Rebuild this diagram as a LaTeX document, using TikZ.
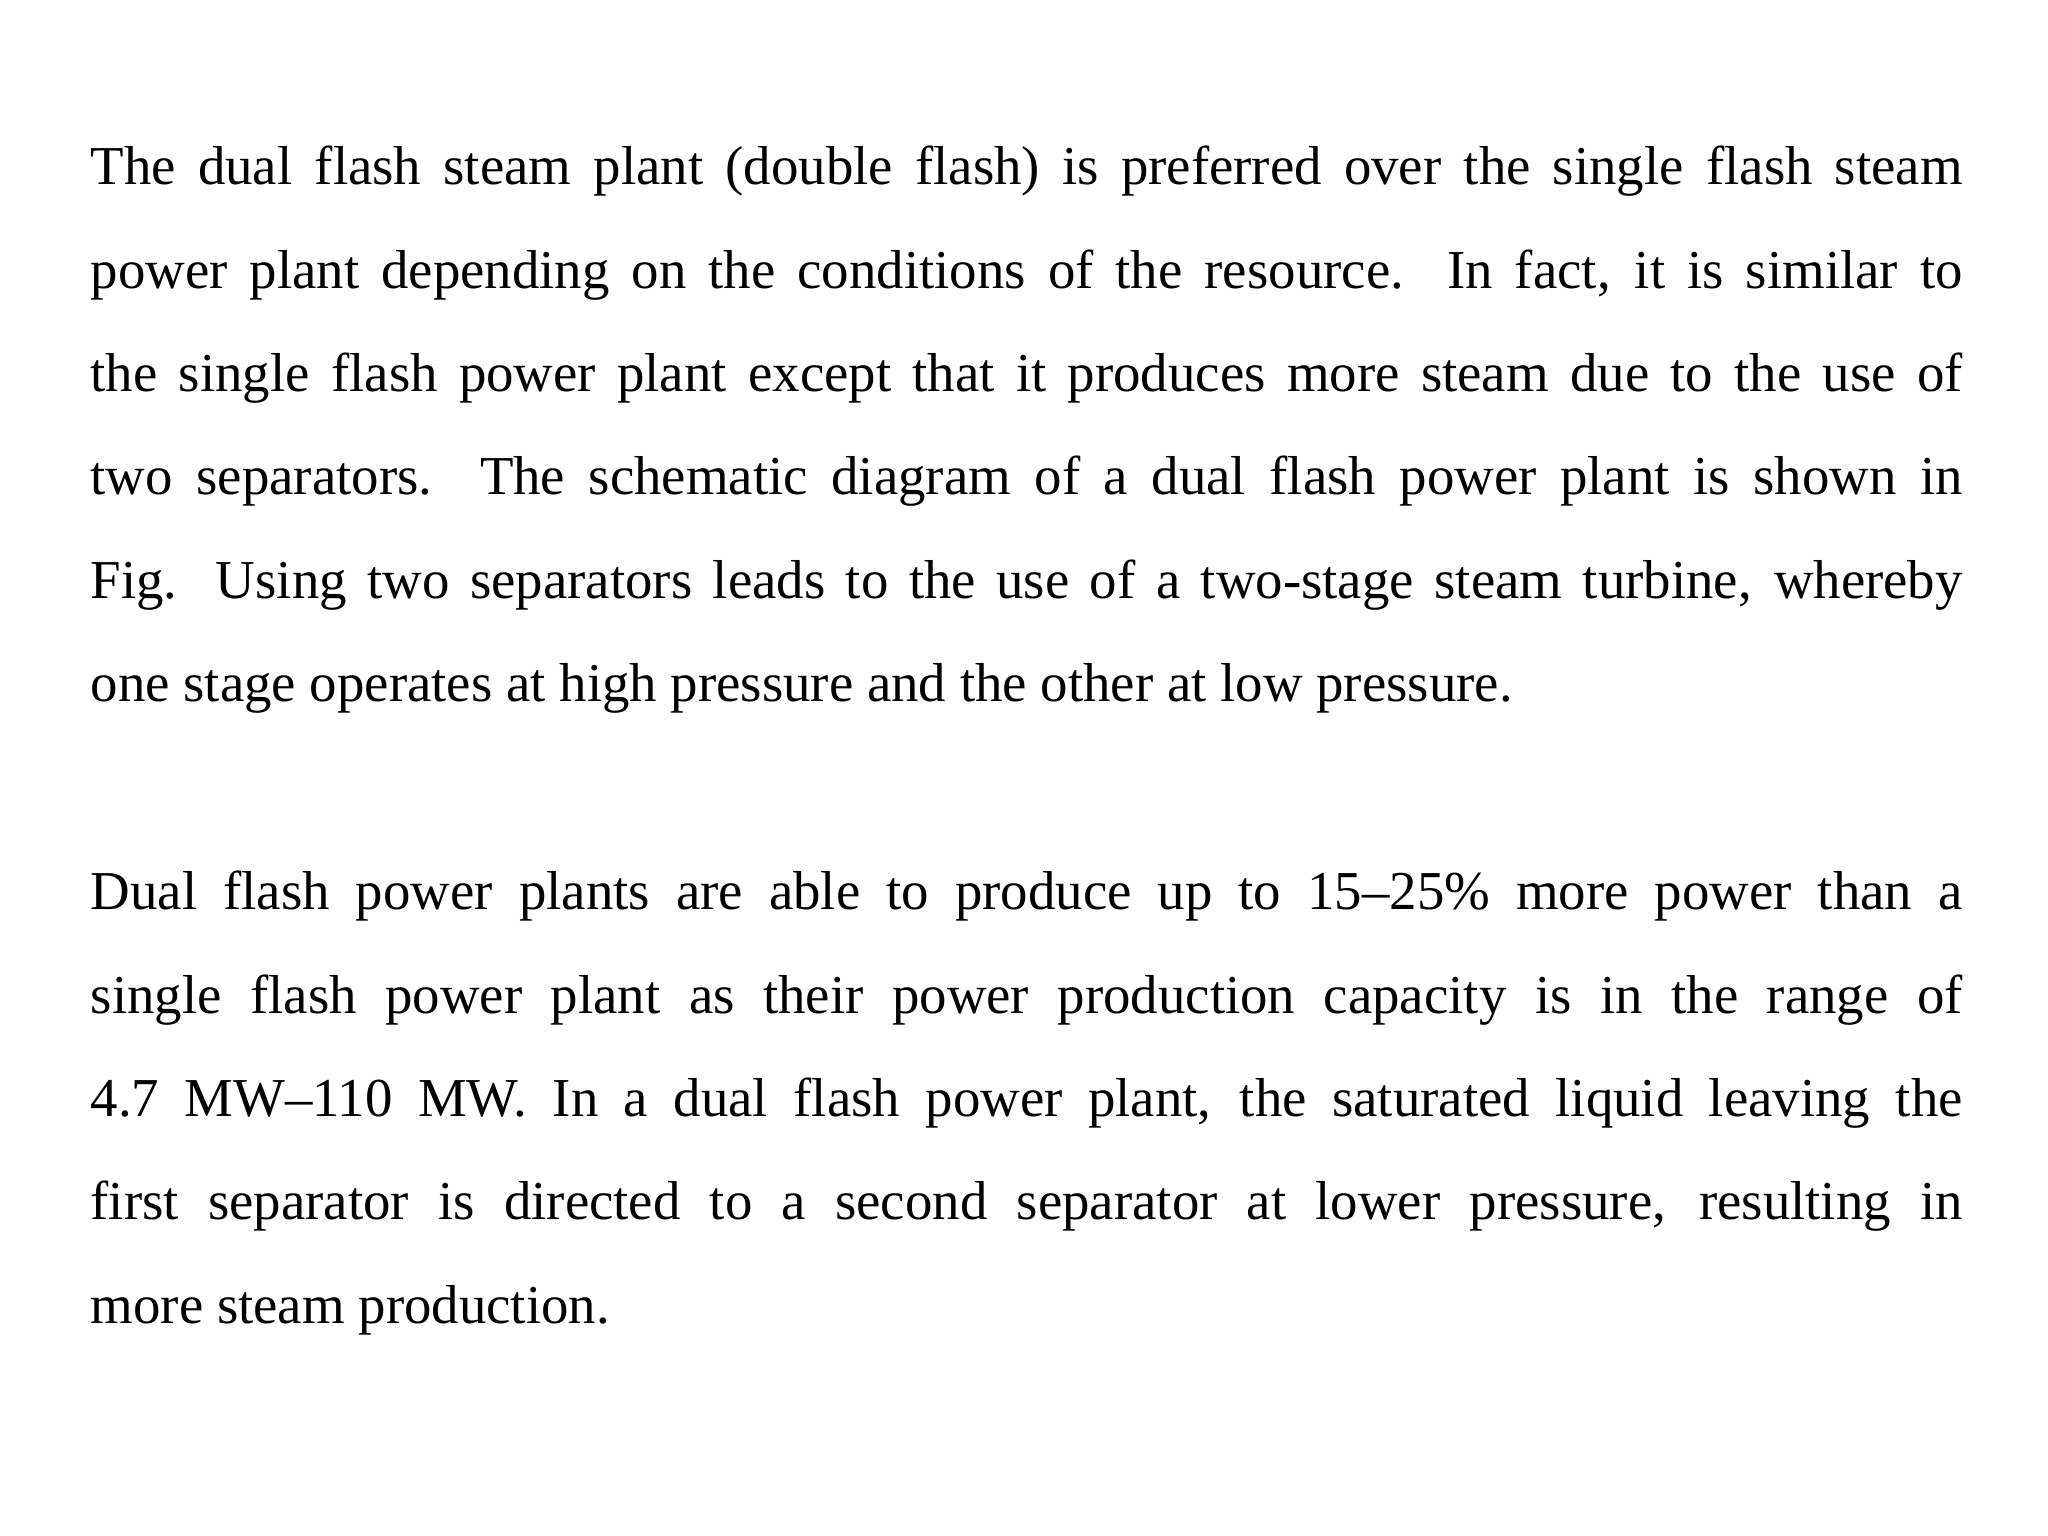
\documentclass[tikz,border=0pt]{standalone}
\usepackage{fontspec}
\setmainfont{Liberation Serif}
\begin{document}
\begin{tikzpicture}
\tikzset{para/.style={anchor=base west,inner sep=0pt,text width=18.72cm,align=justify,font=\fontsize{15.6}{29.4}\selectfont}}
\useasboundingbox[fill=white] (0,0) rectangle (20.48,15.36);
\node[para] (p1) at (0.9,15.36-1.85) {\strut The dual flash steam plant (double flash) is preferred over the single flash steam\linebreak power plant depending on the conditions of the resource. In fact, it is similar to\linebreak the single flash power plant except that it produces more steam due to the use of\linebreak two separators. The schematic diagram of a dual flash power plant is shown in\linebreak Fig. Using two separators leads to the use of a two-stage steam turbine, whereby\linebreak one stage operates at high pressure and the other at low pressure.};
\node[para] (p2) at (0.9,15.36-9.1) {\strut Dual flash power plants are able to produce up to 15--25\% more power than a\linebreak single flash power plant as their power production capacity is in the range of\linebreak 4.7 MW--110 MW. In a dual flash power plant, the saturated liquid leaving the\linebreak first separator is directed to a second separator at lower pressure, resulting in\linebreak more steam production.};
\end{tikzpicture}
\end{document}
